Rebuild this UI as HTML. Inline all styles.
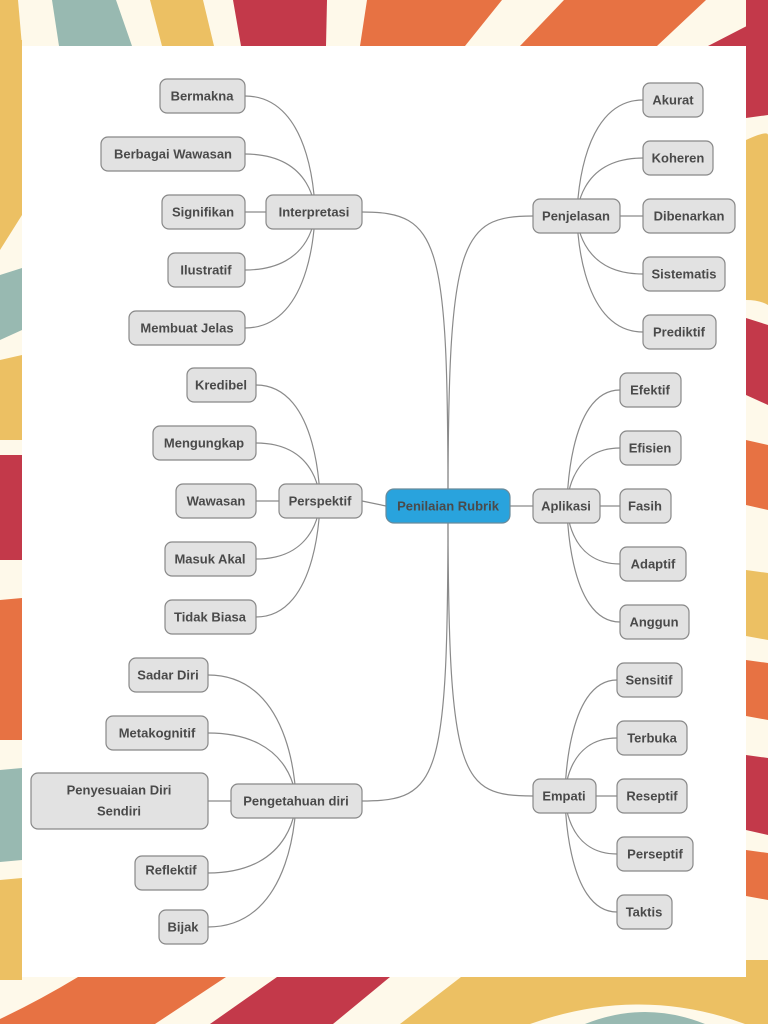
<!DOCTYPE html>
<html><head><meta charset="utf-8"><style>
html,body{margin:0;padding:0;width:768px;height:1024px;overflow:hidden;background:#fef9ea;}
svg{display:block}
text{font-family:"Liberation Sans",sans-serif;font-weight:bold;font-size:13px;fill:#4a4a4a;text-anchor:middle;dominant-baseline:central}
</style></head><body>
<svg width="768" height="1024" viewBox="0 0 768 1024" xmlns="http://www.w3.org/2000/svg">
<rect width="768" height="1024" fill="#fef9ea"/>
<!-- top stripes -->
<polygon points="0,0 18,0 22,46 0,46" fill="#ecc063"/>
<polygon points="52,0 116,0 132,46 59,46" fill="#98b9b1"/>
<polygon points="150,0 203,0 214,46 162,46" fill="#ecc063"/>
<polygon points="233,0 327,0 326,46 241,46" fill="#c3394a"/>
<polygon points="367,0 502,0 465,46 360,46" fill="#e77243"/>
<polygon points="564,0 706,0 657,46 520,46" fill="#e77243"/>
<polygon points="768,15 768,46 708,46" fill="#c3394a"/>
<!-- left stripes -->
<polygon points="0,40 22,40 22,215 0,250" fill="#ecc063"/>
<polygon points="0,275 22,268 22,330 0,340" fill="#98b9b1"/>
<polygon points="0,360 22,355 22,440 0,440" fill="#ecc063"/>
<polygon points="0,455 22,455 22,560 0,560" fill="#c3394a"/>
<polygon points="0,600 22,598 22,740 0,740" fill="#e77243"/>
<polygon points="0,770 22,768 22,860 0,862" fill="#98b9b1"/>
<polygon points="0,880 22,878 22,980 0,980" fill="#ecc063"/>
<!-- right stripes -->
<polygon points="746,0 768,0 768,115 746,118" fill="#c3394a"/>
<path d="M746,140 Q768,130 768,135 L768,305 Q760,300 746,300 Z" fill="#ecc063"/>
<polygon points="746,318 768,325 768,405 746,395" fill="#c3394a"/>
<polygon points="746,440 768,445 768,510 746,505" fill="#e77243"/>
<polygon points="746,570 768,573 768,640 746,636" fill="#ecc063"/>
<polygon points="746,660 768,663 768,720 746,716" fill="#e77243"/>
<polygon points="746,755 768,758 768,835 746,830" fill="#c3394a"/>
<polygon points="746,850 768,853 768,900 746,896" fill="#e77243"/>
<polygon points="746,960 768,960 768,1024 746,1024" fill="#ecc063"/>
<!-- bottom stripes -->
<path d="M0,1019 Q40,1000 78,977 L226,977 L155,1024 L0,1024 Z" fill="#e77243"/>
<polygon points="277,977 390,977 333,1024 210,1024" fill="#c3394a"/>
<polygon points="461,977 768,977 768,1024 400,1024" fill="#ecc063"/>
<path d="M530,1024 Q640,985 745,1024 Z" fill="#fef9ea"/>
<path d="M585,1024 Q645,1000 705,1024 Z" fill="#98b9b1"/>
<!-- panel -->
<rect x="22" y="46" width="724" height="931" fill="#ffffff"/>

<g fill="none" stroke="#8a8a8a" stroke-width="1.2">
<path d="M448 506 C448 240,440 212,362 212"/>
<path d="M448 506 C448 240,460 216,533 216"/>
<path d="M448 506 C448 780,440 801,362 801"/>
<path d="M448 506 C448 780,460 796,533 796"/>
<path d="M362 501 L386 506"/>
<path d="M510 506 L533 506"/>
<path d="M245 96 C315 96,315 212,315 212"/>
<path d="M245 154 C315 154,315 212,315 212"/>
<path d="M245 212 L266 212"/>
<path d="M245 270 C315 270,315 212,315 212"/>
<path d="M245 328 C315 328,315 212,315 212"/>
<path d="M256 385 C320 385,320 501,320 501"/>
<path d="M256 443 C320 443,320 501,320 501"/>
<path d="M256 501 L279 501"/>
<path d="M256 559 C320 559,320 501,320 501"/>
<path d="M256 617 C320 617,320 501,320 501"/>
<path d="M208 675 C296 675,296 801,296 801"/>
<path d="M208 733 C296 733,296 801,296 801"/>
<path d="M208 801 L231 801"/>
<path d="M208 873 C296 873,296 801,296 801"/>
<path d="M208 927 C296 927,296 801,296 801"/>
<path d="M643 100 C577 100,577 216,577 216"/>
<path d="M643 158 C577 158,577 216,577 216"/>
<path d="M620 216 L643 216"/>
<path d="M643 274 C577 274,577 216,577 216"/>
<path d="M643 332 C577 332,577 216,577 216"/>
<path d="M620 390 C567 390,567 506,567 506"/>
<path d="M620 448 C567 448,567 506,567 506"/>
<path d="M600 506 L620 506"/>
<path d="M620 564 C567 564,567 506,567 506"/>
<path d="M620 622 C567 622,567 506,567 506"/>
<path d="M617 680 C565 680,565 796,565 796"/>
<path d="M617 738 C565 738,565 796,565 796"/>
<path d="M596 796 L617 796"/>
<path d="M617 854 C565 854,565 796,565 796"/>
<path d="M617 912 C565 912,565 796,565 796"/>
</g>

<g fill="#e2e2e2" stroke="#888" stroke-width="1.2">
<rect x="533" y="199" width="87" height="34" rx="7"/>
<rect x="643" y="83" width="60" height="34" rx="7"/>
<rect x="643" y="141" width="70" height="34" rx="7"/>
<rect x="643" y="199" width="92" height="34" rx="7"/>
<rect x="643" y="257" width="82" height="34" rx="7"/>
<rect x="643" y="315" width="73" height="34" rx="7"/>
<rect x="533" y="489" width="67" height="34" rx="7"/>
<rect x="620" y="373" width="61" height="34" rx="7"/>
<rect x="620" y="431" width="61" height="34" rx="7"/>
<rect x="620" y="489" width="51" height="34" rx="7"/>
<rect x="620" y="547" width="66" height="34" rx="7"/>
<rect x="620" y="605" width="69" height="34" rx="7"/>
<rect x="533" y="779" width="63" height="34" rx="7"/>
<rect x="617" y="663" width="65" height="34" rx="7"/>
<rect x="617" y="721" width="70" height="34" rx="7"/>
<rect x="617" y="779" width="70" height="34" rx="7"/>
<rect x="617" y="837" width="76" height="34" rx="7"/>
<rect x="617" y="895" width="55" height="34" rx="7"/>
<rect x="266" y="195" width="96" height="34" rx="7"/>
<rect x="160" y="79" width="85" height="34" rx="7"/>
<rect x="101" y="137" width="144" height="34" rx="7"/>
<rect x="162" y="195" width="83" height="34" rx="7"/>
<rect x="168" y="253" width="77" height="34" rx="7"/>
<rect x="129" y="311" width="116" height="34" rx="7"/>
<rect x="279" y="484" width="83" height="34" rx="7"/>
<rect x="187" y="368" width="69" height="34" rx="7"/>
<rect x="153" y="426" width="103" height="34" rx="7"/>
<rect x="176" y="484" width="80" height="34" rx="7"/>
<rect x="165" y="542" width="91" height="34" rx="7"/>
<rect x="165" y="600" width="91" height="34" rx="7"/>
<rect x="231" y="784" width="131" height="34" rx="7"/>
<rect x="129" y="658" width="79" height="34" rx="7"/>
<rect x="106" y="716" width="102" height="34" rx="7"/>
<rect x="31" y="773" width="177" height="56" rx="7"/>
<rect x="135" y="856" width="73" height="34" rx="7"/>
<rect x="159" y="910" width="49" height="34" rx="7"/>
</g>
<rect x="386" y="489" width="124" height="34" rx="8" fill="#29a3dd" stroke="#6a8a9a" stroke-width="1.2"/>

<text x="448" y="506">Penilaian Rubrik</text>
<text x="576" y="216">Penjelasan</text>
<text x="673" y="100">Akurat</text>
<text x="678" y="158">Koheren</text>
<text x="689" y="216">Dibenarkan</text>
<text x="684" y="274">Sistematis</text>
<text x="679" y="332">Prediktif</text>
<text x="566" y="506">Aplikasi</text>
<text x="650" y="390">Efektif</text>
<text x="650" y="448">Efisien</text>
<text x="645" y="506">Fasih</text>
<text x="653" y="564">Adaptif</text>
<text x="654" y="622">Anggun</text>
<text x="564" y="796">Empati</text>
<text x="649" y="680">Sensitif</text>
<text x="652" y="738">Terbuka</text>
<text x="652" y="796">Reseptif</text>
<text x="655" y="854">Perseptif</text>
<text x="644" y="912">Taktis</text>
<text x="314" y="212">Interpretasi</text>
<text x="202" y="96">Bermakna</text>
<text x="173" y="154">Berbagai Wawasan</text>
<text x="203" y="212">Signifikan</text>
<text x="206" y="270">Ilustratif</text>
<text x="187" y="328">Membuat Jelas</text>
<text x="320" y="501">Perspektif</text>
<text x="221" y="385">Kredibel</text>
<text x="204" y="443">Mengungkap</text>
<text x="216" y="501">Wawasan</text>
<text x="210" y="559">Masuk Akal</text>
<text x="210" y="617">Tidak Biasa</text>
<text x="296" y="801">Pengetahuan diri</text>
<text x="168" y="675">Sadar Diri</text>
<text x="157" y="733">Metakognitif</text>
<text x="119" y="790">Penyesuaian Diri</text>
<text x="119" y="811">Sendiri</text>
<text x="171" y="870">Reflektif</text>
<text x="183" y="927">Bijak</text>
</svg>
</body></html>
